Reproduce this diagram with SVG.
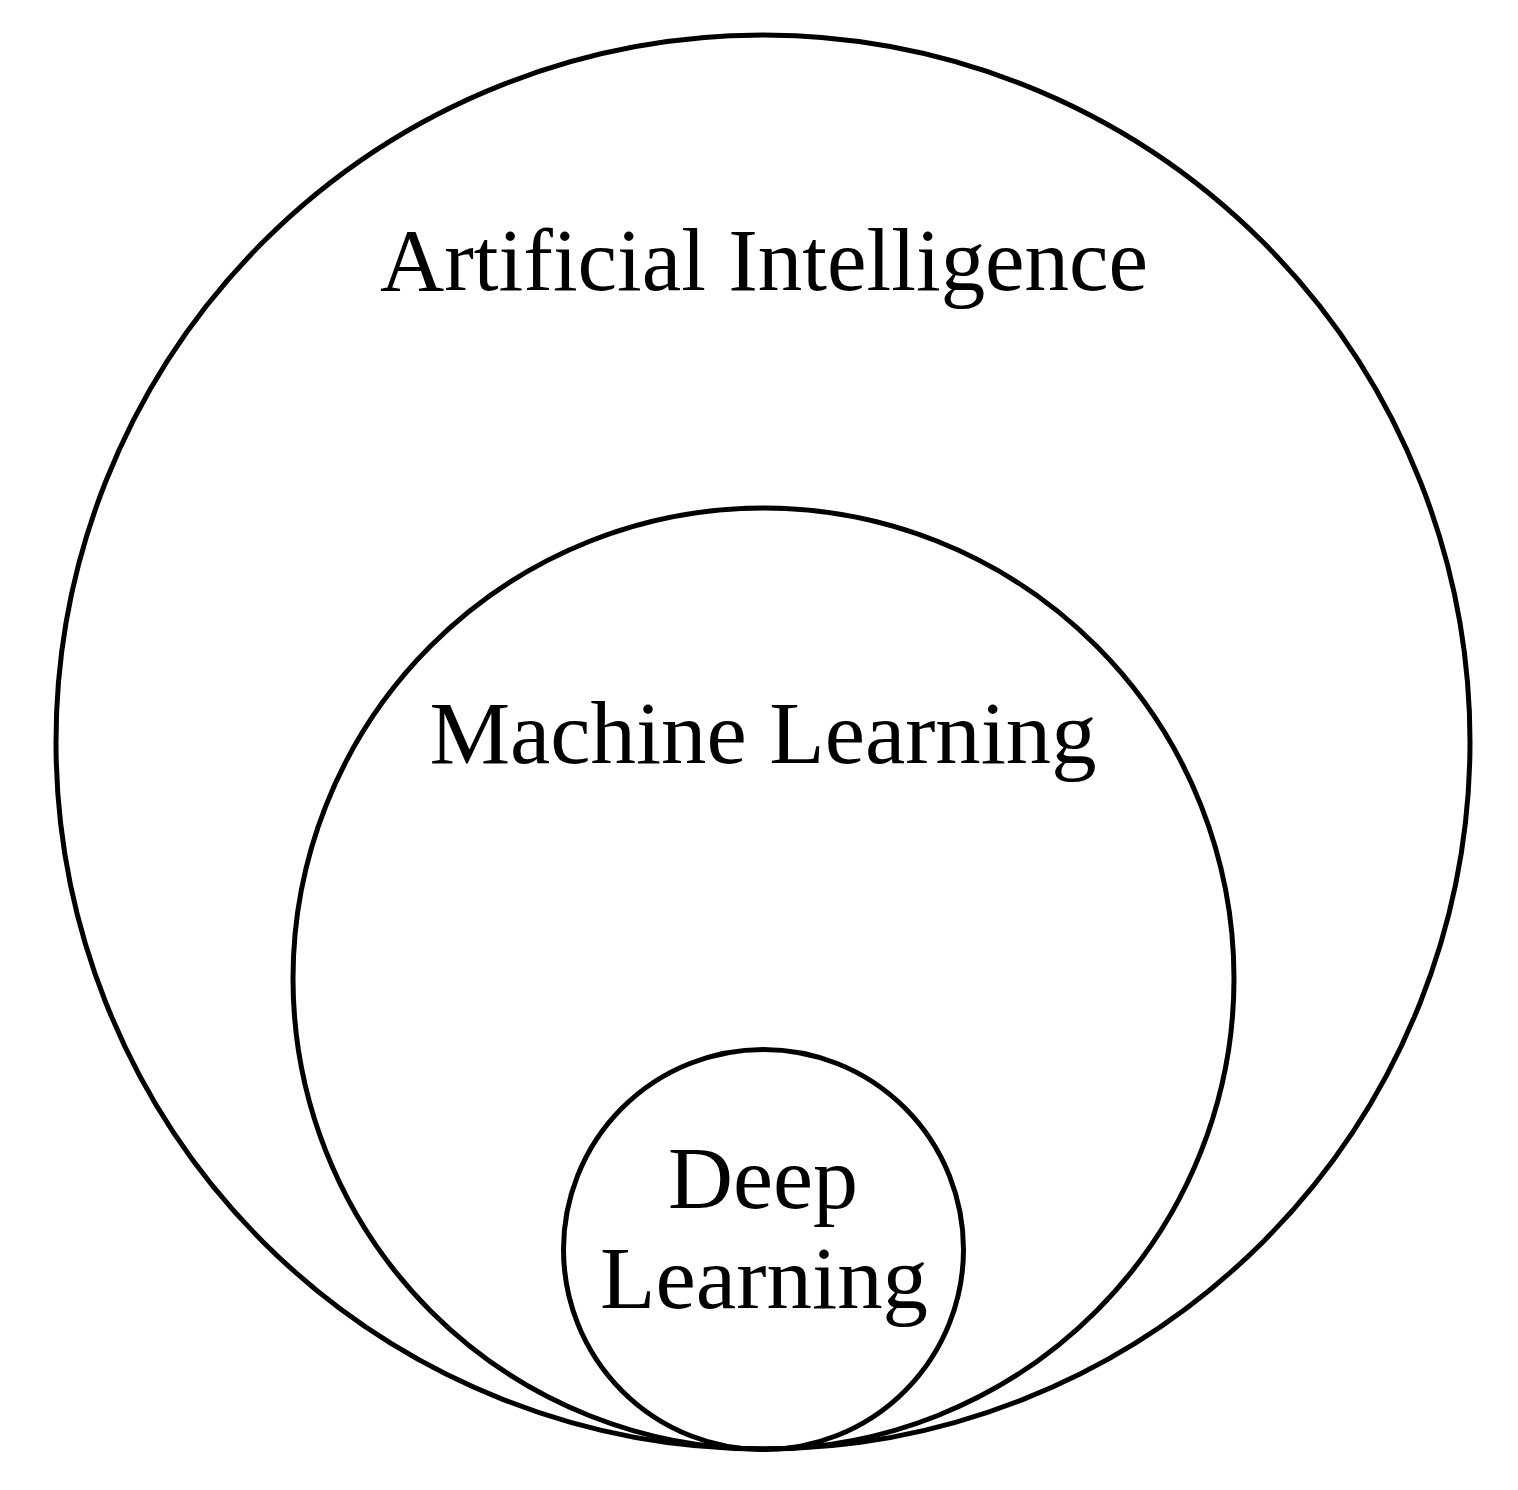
<svg xmlns="http://www.w3.org/2000/svg" width="1518" height="1490" viewBox="0 0 1518 1490">
<style>
.c{fill:none;stroke:#000;stroke-width:5}
.t{font-family:"Liberation Serif",serif;font-size:88px;fill:#000;text-anchor:middle}
</style>
<rect width="1518" height="1490" fill="#fff"/>
<g id="ai"><circle class="c" cx="763" cy="742" r="707"/><text class="t" x="764" y="290" textLength="768" lengthAdjust="spacingAndGlyphs">Artificial Intelligence</text></g>
<g id="ml"><circle class="c" cx="763.5" cy="978.5" r="470.5"/><text class="t" x="763" y="763" textLength="667" lengthAdjust="spacingAndGlyphs">Machine Learning</text></g>
<g id="dl"><circle class="c" cx="763.5" cy="1249.5" r="200"/><text class="t" x="763" y="1208" textLength="190" lengthAdjust="spacingAndGlyphs">Deep</text><text class="t" x="764" y="1308" textLength="328" lengthAdjust="spacingAndGlyphs">Learning</text></g>
<g id="connectors"/>
</svg>
